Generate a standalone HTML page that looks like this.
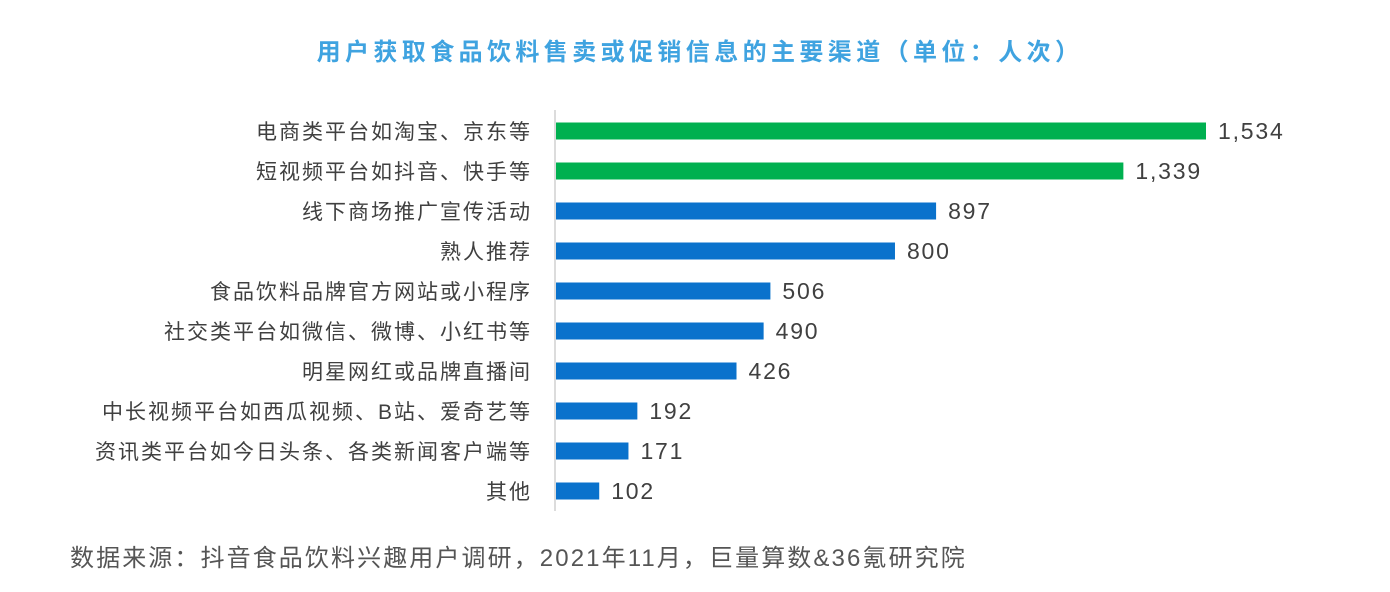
<!DOCTYPE html>
<html><head><meta charset="utf-8"><style>
body{margin:0;width:1390px;height:587px;background:#fff;overflow:hidden;font-family:"Liberation Sans","Noto Sans CJK SC",sans-serif;}
</style></head><body>
<svg id="chart" width="1390" height="587">
<text x="700" y="60" text-anchor="middle" font-size="24" letter-spacing="4.4" font-weight="bold" fill="#3fa3e0" font-family="Liberation Sans, Noto Sans CJK SC, sans-serif">用户获取食品饮料售卖或促销信息的主要渠道（单位：人次）</text>
<line x1="555" y1="110" x2="555" y2="511" stroke="#d0d0d0" stroke-width="1.5"/>
<g id="bars"></g>
<text x="70" y="566" font-size="24" letter-spacing="2.1" fill="#555" font-family="Liberation Sans, Noto Sans CJK SC, sans-serif">数据来源：抖音食品饮料兴趣用户调研，2021年11月，巨量算数&amp;36氪研究院</text>
</svg>
<script>
const categories=["电商类平台如淘宝、京东等","短视频平台如抖音、快手等","线下商场推广宣传活动","熟人推荐","食品饮料品牌官方网站或小程序","社交类平台如微信、微博、小红书等","明星网红或品牌直播间","中长视频平台如西瓜视频、B站、爱奇艺等","资讯类平台如今日头条、各类新闻客户端等","其他"];
const values=[1534,1339,897,800,506,490,426,192,171,102];
const highlight=[true,true,false,false,false,false,false,false,false,false];
const x0=556, xScale=v=>x0+v*650/1534;
const yCenter=i=>131+i*40;
const g=document.getElementById('bars');
const NS='http://www.w3.org/2000/svg';
values.forEach((v,i)=>{
  const r=document.createElementNS(NS,'rect');
  r.setAttribute('x',x0);r.setAttribute('y',yCenter(i)-8.5);
  r.setAttribute('width',xScale(v)-x0);r.setAttribute('height',17);
  r.setAttribute('fill',highlight[i]?'#00b050':'#0a72cc');
  
  
  g.appendChild(r);
  const l=document.createElementNS(NS,'text');
  l.setAttribute('x',532);l.setAttribute('y',yCenter(i)+8);
  l.setAttribute('text-anchor','end');l.setAttribute('font-size','21');l.setAttribute('letter-spacing','2');l.setAttribute('fill','#404040');
  l.textContent=categories[i];
  
  
  g.appendChild(l);
  const t=document.createElementNS(NS,'text');
  t.setAttribute('x',xScale(v)+12);t.setAttribute('y',yCenter(i)+8);
  t.setAttribute('font-size','23');t.setAttribute('letter-spacing','1.8');t.setAttribute('fill','#404040');
  t.textContent=v.toLocaleString('en-US');
  
  
  g.appendChild(t);
});
</script>
</body></html>
